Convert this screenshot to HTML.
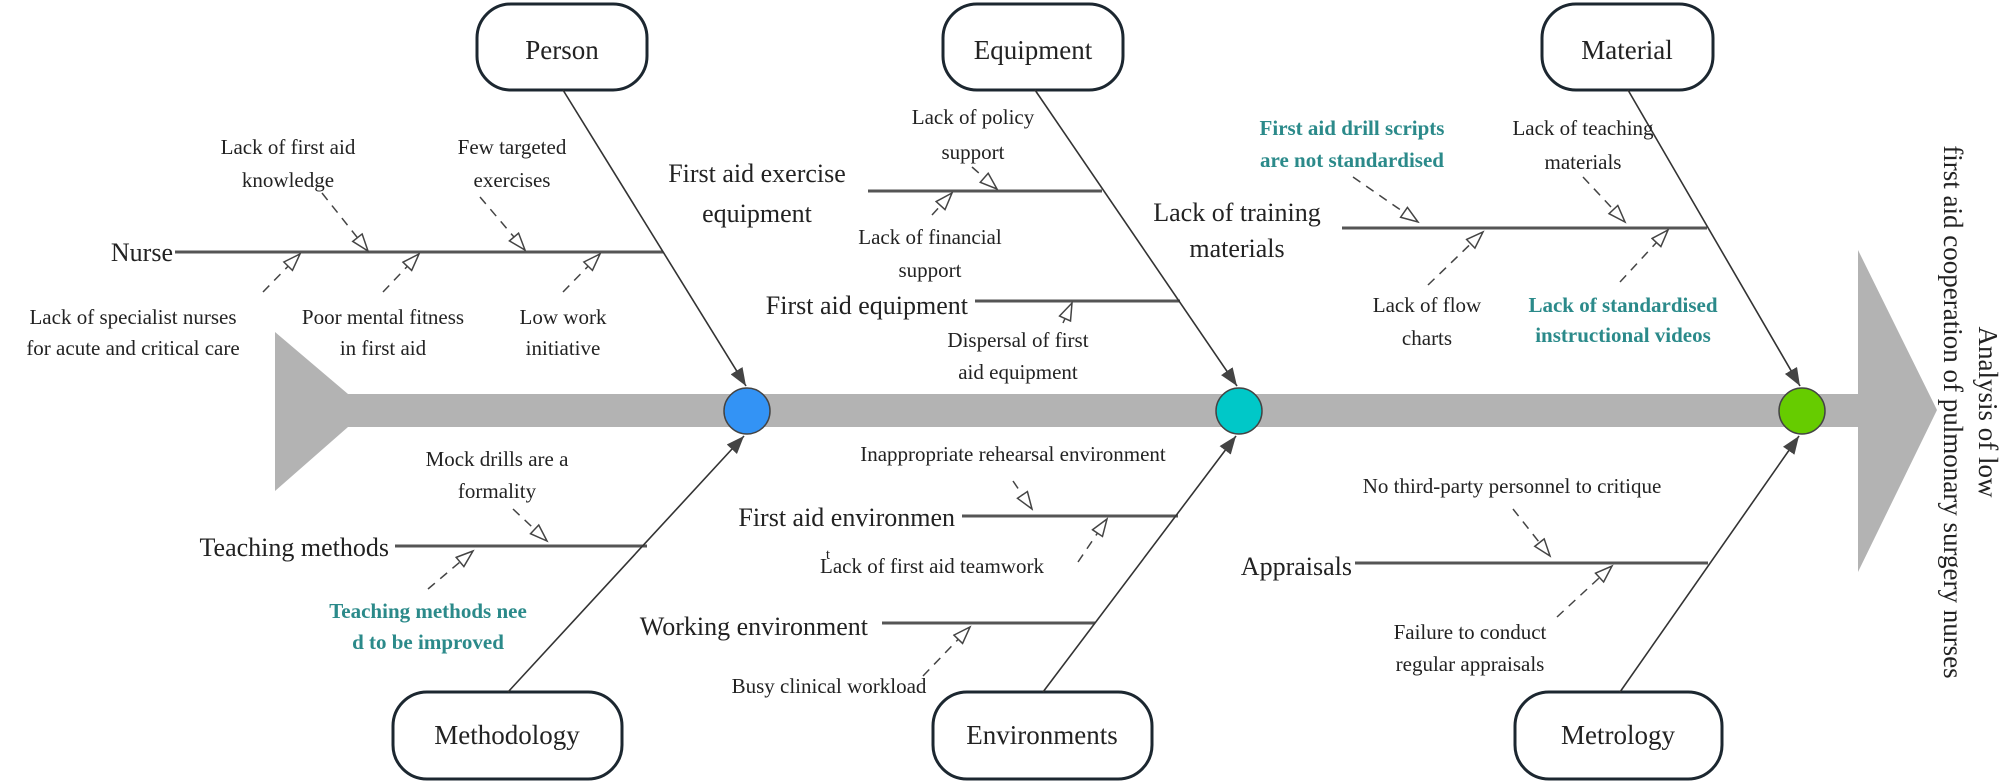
<!DOCTYPE html>
<html><head><meta charset="utf-8"><style>
html,body{margin:0;padding:0;background:#fff;}
svg{display:block;}
text{font-family:"Liberation Serif",serif;fill:#222;}
.c{font-size:26px;}
.s{font-size:21px;}
.b{font-size:27px;}
.t{font-size:21px;font-weight:bold;fill:#2b8a8a;}
.bone{stroke:#555;stroke-width:3;fill:none;}
.main{stroke:#333;stroke-width:1.6;fill:none;marker-end:url(#fa);}
.dash{stroke:#444;stroke-width:1.5;stroke-dasharray:9,7;fill:none;marker-end:url(#ha);}
.box{fill:#fff;stroke:#1c2730;stroke-width:3;}
</style></head><body>
<svg width="2008" height="784" viewBox="0 0 2008 784" xmlns="http://www.w3.org/2000/svg">
<defs>
<marker id="fa" markerUnits="userSpaceOnUse" markerWidth="20" markerHeight="14" refX="18" refY="7" orient="auto"><path d="M0,0 L18,7 L0,14 z" fill="#444"/></marker>
<marker id="ha" markerUnits="userSpaceOnUse" markerWidth="20" markerHeight="16" refX="18" refY="7" orient="auto"><path d="M1,1 L18,7 L1,13 z" fill="#fff" stroke="#444" stroke-width="1.5" stroke-dasharray="none"/></marker>
</defs>

<!-- spine -->
<polygon points="275,332 348,394 1858,394 1858,250 1937,410 1858,572 1858,427 348,427 275,491" fill="#b3b3b3"/>

<!-- boxes -->
<rect class="box" x="477" y="4" width="170" height="86" rx="34"/>
<text class="b" x="562" y="59" text-anchor="middle">Person</text>
<rect class="box" x="943" y="4" width="180" height="86" rx="34"/>
<text class="b" x="1033" y="59" text-anchor="middle">Equipment</text>
<rect class="box" x="1542" y="4" width="171" height="86" rx="34"/>
<text class="b" x="1627" y="59" text-anchor="middle">Material</text>
<rect class="box" x="393" y="692" width="229" height="87" rx="34"/>
<text class="b" x="507" y="744" text-anchor="middle">Methodology</text>
<rect class="box" x="933" y="692" width="219" height="87" rx="34"/>
<text class="b" x="1042" y="744" text-anchor="middle">Environments</text>
<rect class="box" x="1515" y="692" width="207" height="87" rx="34"/>
<text class="b" x="1618" y="744" text-anchor="middle">Metrology</text>

<!-- bones -->
<line class="bone" x1="175" y1="252" x2="663" y2="252"/>
<line class="bone" x1="868" y1="191" x2="1102" y2="191"/>
<line class="bone" x1="975" y1="301" x2="1180" y2="301"/>
<line class="bone" x1="1342" y1="228" x2="1707" y2="228"/>
<line class="bone" x1="395" y1="546" x2="647" y2="546"/>
<line class="bone" x1="962" y1="516" x2="1178" y2="516"/>
<line class="bone" x1="882" y1="623" x2="1095" y2="623"/>
<line class="bone" x1="1355" y1="563" x2="1708" y2="563"/>

<!-- main diagonals -->
<line class="main" x1="563" y1="90" x2="746" y2="386"/>
<line class="main" x1="1035" y1="90" x2="1237" y2="386"/>
<line class="main" x1="1628" y1="90" x2="1800" y2="386"/>
<line class="main" x1="508" y1="692" x2="744" y2="436"/>
<line class="main" x1="1043" y1="692" x2="1236" y2="436"/>
<line class="main" x1="1620" y1="692" x2="1799" y2="436"/>

<!-- circles -->
<circle cx="747" cy="411" r="23" fill="#3393f5" stroke="#444" stroke-width="1.5"/>
<circle cx="1239" cy="411" r="23" fill="#00c8c8" stroke="#444" stroke-width="1.5"/>
<circle cx="1802" cy="411" r="23" fill="#66cc00" stroke="#444" stroke-width="1.5"/>

<!-- dashed arrows -->
<line class="dash" x1="322" y1="193" x2="368" y2="251"/>
<line class="dash" x1="480" y1="197" x2="525" y2="250"/>
<line class="dash" x1="263" y1="292" x2="300" y2="254"/>
<line class="dash" x1="383" y1="292" x2="419" y2="254"/>
<line class="dash" x1="563" y1="292" x2="600" y2="254"/>
<line class="dash" x1="972" y1="167" x2="997" y2="189"/>
<line class="dash" x1="932" y1="215" x2="952" y2="193"/>
<line class="dash" x1="1063" y1="323" x2="1072" y2="303"/>
<line class="dash" x1="1353" y1="177" x2="1418" y2="222"/>
<line class="dash" x1="1428" y1="285" x2="1483" y2="232"/>
<line class="dash" x1="1583" y1="177" x2="1625" y2="222"/>
<line class="dash" x1="1620" y1="282" x2="1668" y2="230"/>
<line class="dash" x1="513" y1="509" x2="547" y2="541"/>
<line class="dash" x1="428" y1="589" x2="473" y2="551"/>
<line class="dash" x1="1013" y1="481" x2="1032" y2="509"/>
<line class="dash" x1="1078" y1="562" x2="1107" y2="519"/>
<line class="dash" x1="923" y1="676" x2="970" y2="627"/>
<line class="dash" x1="1513" y1="509" x2="1550" y2="556"/>
<line class="dash" x1="1557" y1="617" x2="1612" y2="566"/>

<!-- category labels -->
<text class="c" x="173" y="261" text-anchor="end">Nurse</text>
<text class="c" x="757" y="182" text-anchor="middle">First aid exercise</text>
<text class="c" x="757" y="222" text-anchor="middle">equipment</text>
<text class="c" x="968" y="314" text-anchor="end">First aid equipment</text>
<text class="c" x="1237" y="221" text-anchor="middle">Lack of training</text>
<text class="c" x="1237" y="257" text-anchor="middle">materials</text>
<text class="c" x="389" y="556" text-anchor="end">Teaching methods</text>
<text class="c" x="955" y="526" text-anchor="end">First aid environmen</text>
<text class="c" x="868" y="635" text-anchor="end">Working environment</text>
<text class="c" x="1352" y="575" text-anchor="end">Appraisals</text>

<!-- sub causes -->
<text class="s" x="288" y="154" text-anchor="middle">Lack of first aid</text>
<text class="s" x="288" y="187" text-anchor="middle">knowledge</text>
<text class="s" x="512" y="154" text-anchor="middle">Few targeted</text>
<text class="s" x="512" y="187" text-anchor="middle">exercises</text>
<text class="s" x="133" y="324" text-anchor="middle">Lack of specialist nurses</text>
<text class="s" x="133" y="355" text-anchor="middle">for acute and critical care</text>
<text class="s" x="383" y="324" text-anchor="middle">Poor mental fitness</text>
<text class="s" x="383" y="355" text-anchor="middle">in first aid</text>
<text class="s" x="563" y="324" text-anchor="middle">Low work</text>
<text class="s" x="563" y="355" text-anchor="middle">initiative</text>
<text class="s" x="973" y="124" text-anchor="middle">Lack of policy</text>
<text class="s" x="973" y="159" text-anchor="middle">support</text>
<text class="s" x="930" y="244" text-anchor="middle">Lack of financial</text>
<text class="s" x="930" y="277" text-anchor="middle">support</text>
<text class="s" x="1018" y="347" text-anchor="middle">Dispersal of first</text>
<text class="s" x="1018" y="379" text-anchor="middle">aid equipment</text>
<text class="t" x="1352" y="135" text-anchor="middle">First aid drill scripts</text>
<text class="t" x="1352" y="167" text-anchor="middle">are not standardised</text>
<text class="s" x="1427" y="312" text-anchor="middle">Lack of flow</text>
<text class="s" x="1427" y="345" text-anchor="middle">charts</text>
<text class="s" x="1583" y="135" text-anchor="middle">Lack of teaching</text>
<text class="s" x="1583" y="169" text-anchor="middle">materials</text>
<text class="t" x="1623" y="312" text-anchor="middle">Lack of standardised</text>
<text class="t" x="1623" y="342" text-anchor="middle">instructional videos</text>
<text class="s" x="497" y="466" text-anchor="middle">Mock drills are a</text>
<text class="s" x="497" y="498" text-anchor="middle">formality</text>
<text class="t" x="428" y="618" text-anchor="middle">Teaching methods nee</text>
<text class="t" x="428" y="649" text-anchor="middle">d to be improved</text>
<text class="s" x="1013" y="461" text-anchor="middle">Inappropriate rehearsal environment</text>
<text class="s" x="932" y="573" text-anchor="middle">Lack of first aid teamwork</text>
<text class="s" x="828" y="559" text-anchor="middle" style="font-size:15px">t</text>
<text class="s" x="829" y="693" text-anchor="middle">Busy clinical workload</text>
<text class="s" x="1512" y="493" text-anchor="middle">No third-party personnel to critique</text>
<text class="s" x="1470" y="639" text-anchor="middle">Failure to conduct</text>
<text class="s" x="1470" y="671" text-anchor="middle">regular appraisals</text>

<!-- effect -->
<text style="font-size:27px" transform="translate(1979,412) rotate(90)" text-anchor="middle">Analysis of low</text>
<text style="font-size:27px" transform="translate(1944,412) rotate(90)" text-anchor="middle">first aid cooperation of pulmonary surgery nurses</text>
</svg>
</body></html>
